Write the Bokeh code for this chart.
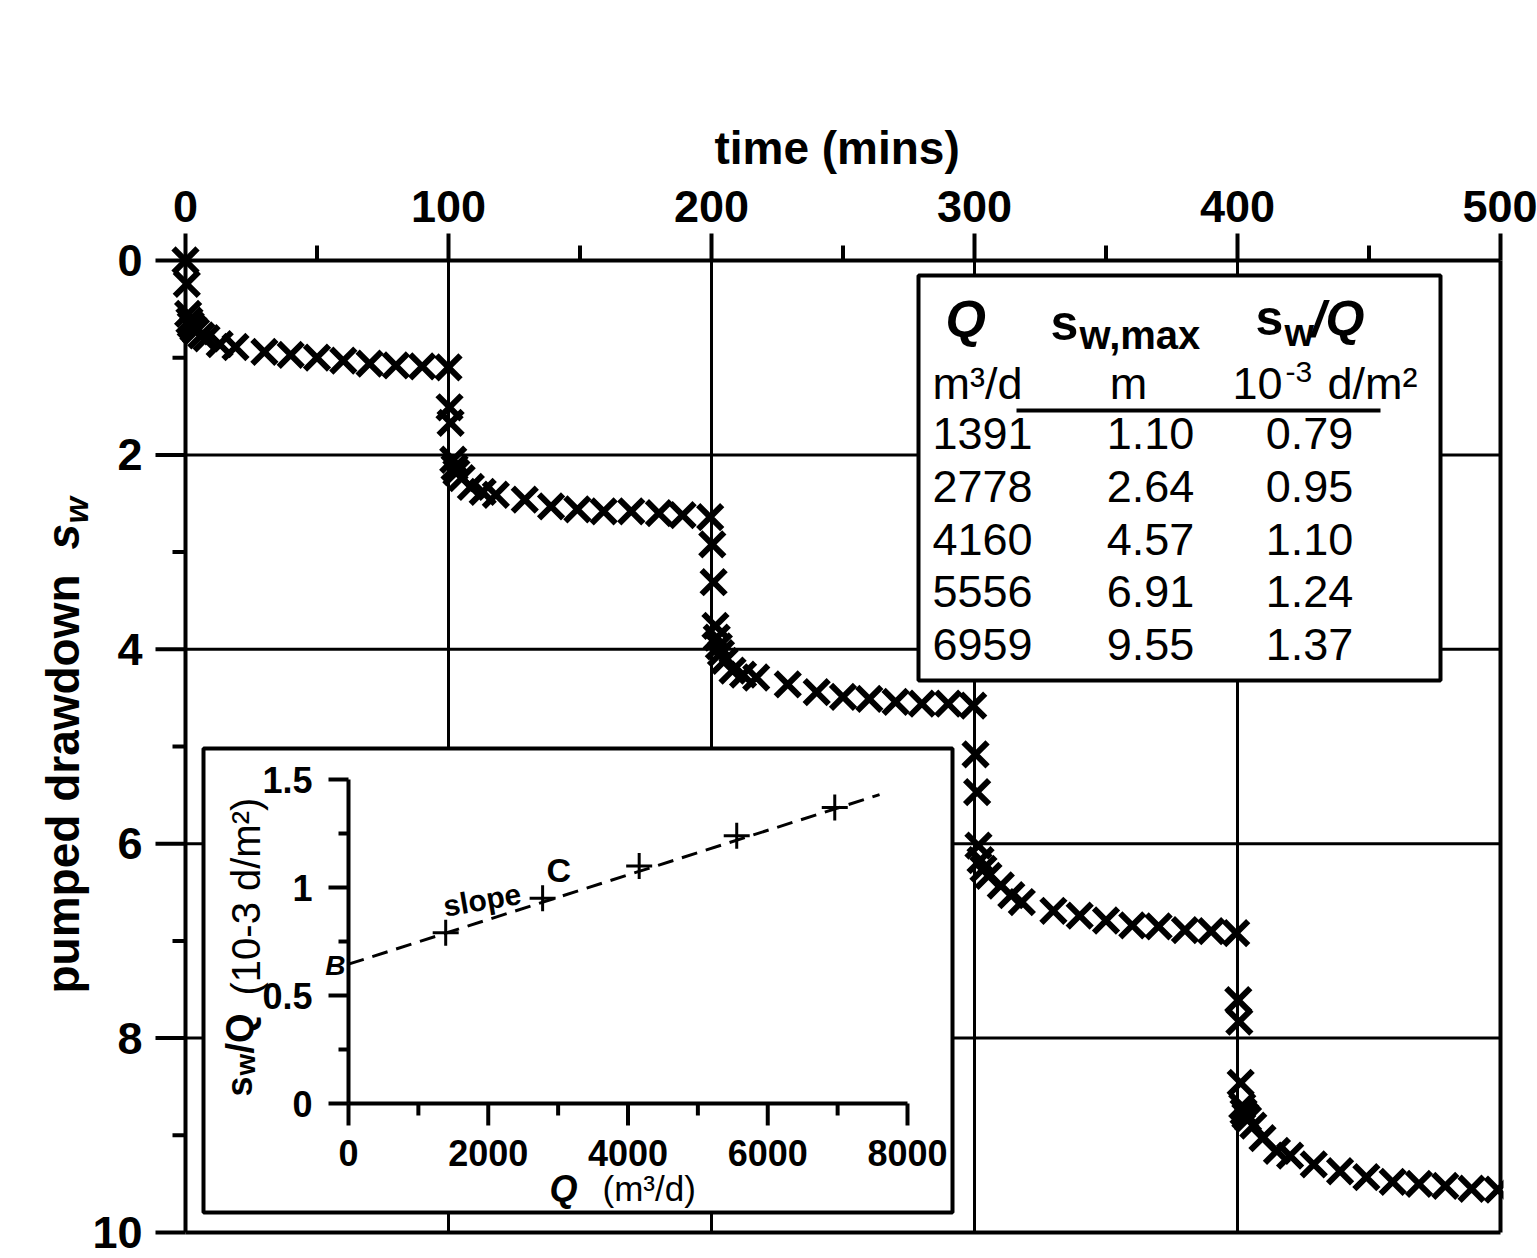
import math
from bokeh.plotting import figure
from bokeh.models import Range1d, FixedTicker, ColumnDataSource
from bokeh.core.properties import value
from bokeh.embed import file_html
from bokeh.resources import INLINE

FONT = "Liberation Sans"

# ---------------- data: step-drawdown test ----------------
stage1_t = [0, 0.5, 1, 1.5, 2, 3, 4, 6, 8, 13, 19, 30, 40, 50, 60, 70, 80, 90, 100]
stage1_s = [0.00, 0.24, 0.55, 0.62, 0.66, 0.70, 0.73, 0.77, 0.80, 0.86, 0.89, 0.94, 0.97, 1.00, 1.03, 1.06, 1.08, 1.09, 1.10]
stage2_t = [100.4, 100.8, 101.8, 102.3, 103, 105, 108.5, 113, 118, 129, 139, 149, 159, 169.5, 180, 189, 199.5]
stage2_s = [1.51, 1.67, 2.05, 2.13, 2.18, 2.24, 2.33, 2.38, 2.41, 2.46, 2.53, 2.56, 2.58, 2.58, 2.60, 2.62, 2.64]
stage3_t = [200.3, 200.8, 201.5, 202, 202.8, 203.6, 205, 208, 212, 217, 229, 240, 250, 260, 270, 280, 290, 299.5]
stage3_s = [2.92, 3.31, 3.76, 3.88, 3.97, 4.04, 4.12, 4.22, 4.26, 4.29, 4.36, 4.44, 4.49, 4.51, 4.54, 4.56, 4.56, 4.58]
stage4_t = [300.4, 301, 301.5, 302.3, 303.4, 305.3, 310, 314, 318, 330, 340, 350, 360, 370, 380, 390, 399.5]
stage4_s = [5.08, 5.47, 6.02, 6.17, 6.26, 6.33, 6.43, 6.53, 6.60, 6.69, 6.74, 6.79, 6.84, 6.85, 6.89, 6.90, 6.92]
stage5_t = [400.3, 400.7, 401.2, 401.8, 402.3, 403, 404, 406, 409.5, 415, 420, 429, 439, 449, 459, 469, 479, 489, 499]
stage5_s = [7.61, 7.83, 8.46, 8.70, 8.76, 8.80, 8.83, 8.90, 9.03, 9.16, 9.21, 9.30, 9.37, 9.43, 9.48, 9.50, 9.52, 9.55, 9.56]

time_mins = stage1_t + stage2_t + stage3_t + stage4_t + stage5_t
drawdown = stage1_s + stage2_s + stage3_s + stage4_s + stage5_s

# table / inset data
q_rates = [1391, 2778, 4160, 5556, 6959]          # m3/d
sw_max = [1.10, 2.64, 4.57, 6.91, 9.55]            # m
sw_over_q = [0.79, 0.95, 1.10, 1.24, 1.37]         # 10^-3 d/m2
fit_q = [0, 7600]
fit_r = [0.645, 1.43]

main_x_ticks = [0, 100, 200, 300, 400, 500]
main_x_minor = [50, 150, 250, 350, 450]
main_y_ticks = [0, 2, 4, 6, 8, 10]
main_y_minor = [1, 3, 5, 7, 9]
inset_x_ticks = [0, 2000, 4000, 6000, 8000]
inset_x_minor = [1000, 3000, 5000, 7000]
inset_y_ticks = [0, 0.5, 1, 1.5]
inset_y_labels = ["0", "0.5", "1", "1.5"]
inset_y_minor = [0.25, 0.75, 1.25]

# ---------------- layout geometry (page pixels) ----------------
W, H = 1537, 1258
XL, XR, YT, YB = 185, 1500, 260, 1232    # pixels of t=0, t=500, s=0, s=10
FRAME_TOP, FRAME_RIGHT = 228, 1503       # plotting frame spans the canvas left/bottom
T0, T1, S0, S1 = 0, 500, 0, 10


def tx(px):
    return T0 + (px - XL) / (XR - XL) * (T1 - T0)


def sy(py):
    return S0 + (py - YT) / (YB - YT) * (S1 - S0)


# inset axes geometry
IQX0, IQX1 = 348, 907      # px of Q=0, Q=8000
IRY0, IRY1 = 1103, 779     # px of r=0, r=1.5
QPP = 8000 / (IQX1 - IQX0)
RPP = 1.5 / (IRY0 - IRY1)


def qx(px):
    return (px - IQX0) * QPP


def ry(py):
    return (IRY0 - py) * RPP


p = figure(width=W, height=H, x_range=Range1d(tx(0), tx(FRAME_RIGHT)),
           y_range=Range1d(sy(H), sy(FRAME_TOP)),
           x_axis_location="above", y_axis_location=None,
           output_backend="svg", toolbar_location=None,
           min_border_left=0, min_border_right=W - FRAME_RIGHT, min_border_top=FRAME_TOP,
           min_border_bottom=0, background_fill_color="white", border_fill_color="white")
p.outline_line_color = None
p.xgrid.visible = False
p.ygrid.visible = False

p.extra_x_ranges = {"q": Range1d(qx(0), qx(FRAME_RIGHT))}
p.extra_y_ranges = {"r": Range1d(ry(H), ry(FRAME_TOP))}
R = dict(x_range_name="q", y_range_name="r")

# top (time) axis: labels from the axis, tick marks drawn in the frame below
xa = p.xaxis[0]
xa.ticker = FixedTicker(ticks=main_x_ticks, minor_ticks=main_x_minor)
xa.major_label_text_font = FONT
xa.major_label_text_font_size = "45px"
xa.major_label_text_font_style = "bold"
xa.major_label_text_color = "black"
xa.major_tick_out = 0
xa.major_tick_in = 0
xa.minor_tick_out = 0
xa.minor_tick_in = 0
xa.axis_line_color = None
xa.major_tick_line_color = None
xa.minor_tick_line_color = None
# leading em/en spaces shift the centred title over the time span of the panel
xa.axis_label = "\u2003\u2003\u2003\u2002\u2009time (mins)"
xa.axis_label_text_font = FONT
xa.axis_label_text_font_size = "46px"
xa.axis_label_text_font_style = "bold"
xa.axis_label_text_color = "black"
xa.axis_label_standoff = 14
xa.major_label_standoff = 7

# grid lines and frame of the time/drawdown panel
inner_x = main_x_ticks[1:-1]
inner_y = main_y_ticks[1:-1]
p.segment(x0=inner_x, x1=inner_x, y0=[S0] * len(inner_x), y1=[S1] * len(inner_x),
          line_color="black", line_width=3)
p.segment(x0=[T0] * len(inner_y), x1=[T1] * len(inner_y), y0=inner_y, y1=inner_y,
          line_color="black", line_width=3)
p.segment(x0=[T0, T1, T0, T0], x1=[T0, T1, T1, T1], y0=[S0, S0, S0, S1], y1=[S1, S1, S0, S1],
          line_color="black", line_width=4)

# time axis tick marks (upward)
p.segment(x0=main_x_ticks, x1=main_x_ticks, y0=[S0] * len(main_x_ticks),
          y1=[sy(YT - 27)] * len(main_x_ticks), line_color="black", line_width=4)
p.segment(x0=main_x_minor, x1=main_x_minor, y0=[S0] * len(main_x_minor),
          y1=[sy(YT - 15)] * len(main_x_minor), line_color="black", line_width=4)

# drawdown (left) axis ticks and labels
p.segment(x0=[T0] * len(main_y_ticks), x1=[tx(XL - 30)] * len(main_y_ticks),
          y0=main_y_ticks, y1=main_y_ticks, line_color="black", line_width=4)
p.segment(x0=[T0] * len(main_y_minor), x1=[tx(XL - 13)] * len(main_y_minor),
          y0=main_y_minor, y1=main_y_minor, line_color="black", line_width=4)
p.text(x=[tx(142)] * len(main_y_ticks), y=main_y_ticks, text=[str(v) for v in main_y_ticks],
       text_align=value("right"), text_baseline=value("middle"), text_font=value(FONT),
       text_font_size=value("45px"), text_font_style=value("bold"), text_color="black")

# drawdown axis title (rotated, with subscript)
yl = dict(angle=math.pi / 2, text_align=value("left"), text_baseline=value("middle"),
          text_font=value(FONT), text_color="black")
p.text(x=[qx(62)], y=[ry(993)], text=["pumped drawdown"], text_font_size=value("46px"),
       text_font_style=value("bold"), **yl, **R)
p.text(x=[qx(62)], y=[ry(549)], text=["s"], text_font_size=value("46px"),
       text_font_style=value("bold italic"), **yl, **R)
p.text(x=[qx(75)], y=[ry(523)], text=["w"], text_font_size=value("34px"),
       text_font_style=value("bold italic"), **yl, **R)

# main data markers
p.scatter(time_mins, drawdown, marker="x", size=34, line_width=6, line_color="black")

# ---------------- table box ----------------
p.quad(left=[tx(918)], right=[tx(1440)], top=[sy(275)], bottom=[sy(680)],
       fill_color="white", line_color="black", line_width=4)

ROW0, ROWH = 433, 52.8
row_y = [sy(ROW0 + i * ROWH) for i in range(len(q_rates))]
tab = ColumnDataSource(dict(
    y=row_y,
    q=[str(v) for v in q_rates],
    smax=["%.2f" % v for v in sw_max],
    sq=["%.2f" % v for v in sw_over_q],
))
common = dict(text_font=value(FONT), text_font_size=value("45px"), text_color="black",
              text_baseline=value("middle"))
p.text(x=tx(932), y="y", text="q", source=tab, text_align=value("left"), **common)
p.text(x=tx(1150), y="y", text="smax", source=tab, text_align=value("center"), **common)
p.text(x=tx(1309), y="y", text="sq", source=tab, text_align=value("center"), **common)

# units row
p.text(x=[tx(932)], y=[sy(383)], text=["m³/d"], text_align=value("left"), **common)
p.text(x=[tx(1128)], y=[sy(383)], text=["m"], text_align=value("center"), **common)
p.text(x=[tx(1232)], y=[sy(383)], text=["10"], text_align=value("left"), **common)
p.text(x=[tx(1285)], y=[sy(371)], text=["-3"], text_align=value("left"),
       text_font=value(FONT), text_font_size=value("30px"), text_baseline=value("middle"),
       text_color="black")
p.text(x=[tx(1327)], y=[sy(383)], text=["d/m²"], text_align=value("left"), **common)
p.segment(x0=[tx(1016)], x1=[tx(1380)], y0=[sy(410)], y1=[sy(410)], line_color="black", line_width=4)

# header row
hdr = dict(text_font=value(FONT), text_baseline=value("middle"), text_color="black",
           text_align=value("left"))
p.text(x=[tx(945)], y=[sy(318)], text=["Q"], text_font_size=value("52px"),
       text_font_style=value("bold italic"), **hdr)
p.text(x=[tx(1050)], y=[sy(322)], text=["s"], text_font_size=value("50px"),
       text_font_style=value("bold"), **hdr)
p.text(x=[tx(1079)], y=[sy(334)], text=["w,max"], text_font_size=value("40px"),
       text_font_style=value("bold"), **hdr)
p.text(x=[tx(1255)], y=[sy(317)], text=["s"], text_font_size=value("50px"),
       text_font_style=value("bold"), **hdr)
p.text(x=[tx(1284)], y=[sy(332)], text=["w"], text_font_size=value("38px"),
       text_font_style=value("bold"), **hdr)
p.text(x=[tx(1311)], y=[sy(318)], text=["/Q"], text_font_size=value("50px"),
       text_font_style=value("bold italic"), **hdr)

# ---------------- inset ----------------
p.quad(left=[tx(203)], right=[tx(952)], top=[sy(748)], bottom=[sy(1212)],
       fill_color="white", line_color="black", line_width=4)

blk = dict(line_color="black", line_width=4)
# axis lines
p.segment(x0=[0, 0], y0=[0, 0], x1=[0, inset_x_ticks[-1]], y1=[inset_y_ticks[-1], 0], **blk, **R)
# y ticks
p.segment(x0=[0] * 4, x1=[-20 * QPP] * 4, y0=inset_y_ticks, y1=inset_y_ticks, **blk, **R)
p.segment(x0=[0] * 3, x1=[-10 * QPP] * 3, y0=inset_y_minor, y1=inset_y_minor, **blk, **R)
# x ticks
p.segment(x0=inset_x_ticks, x1=inset_x_ticks, y0=[0] * 5, y1=[-22 * RPP] * 5, **blk, **R)
p.segment(x0=inset_x_minor, x1=inset_x_minor, y0=[0] * 4, y1=[-12 * RPP] * 4, **blk, **R)

tl = dict(text_font=value(FONT), text_font_size=value("36px"), text_font_style=value("bold"),
          text_color="black", text_baseline=value("middle"))
p.text(x=[qx(312)] * 4, y=inset_y_ticks, text=inset_y_labels, text_align=value("right"), **tl, **R)
p.text(x=inset_x_ticks, y=[ry(1152)] * 5, text=[str(v) for v in inset_x_ticks],
       text_align=value("center"), **tl, **R)

# x title
p.text(x=[qx(577)], y=[ry(1188)], text=["Q"], text_align=value("right"),
       text_font=value(FONT), text_font_size=value("36px"), text_font_style=value("bold italic"),
       text_baseline=value("middle"), text_color="black", **R)
p.text(x=[qx(602)], y=[ry(1188)], text=["(m³/d)"], text_align=value("left"),
       text_font=value(FONT), text_font_size=value("35px"), text_baseline=value("middle"),
       text_color="black", **R)

# y title (rotated)
rot = dict(angle=math.pi / 2, text_align=value("left"), text_baseline=value("middle"),
           text_font=value(FONT), text_color="black")
p.text(x=[qx(239)], y=[ry(1096)], text=["s"], text_font_size=value("36px"),
       text_font_style=value("bold"), **rot, **R)
p.text(x=[qx(245)], y=[ry(1075)], text=["w"], text_font_size=value("28px"),
       text_font_style=value("bold"), **rot, **R)
p.text(x=[qx(239)], y=[ry(1053)], text=["/Q"], text_font_size=value("38px"),
       text_font_style=value("bold"), **rot, **R)
p.text(x=[qx(245)], y=[ry(995)], text=["(10-3 d/m²)"], text_font_size=value("40px"),
       **rot, **R)

# fit line and points
p.line(fit_q, fit_r, line_color="black", line_width=3, line_dash="16 9", **R)
p.scatter(q_rates, sw_over_q, marker="cross", size=26, line_width=3, line_color="black", **R)

p.text(x=[qx(345)], y=[ry(965)], text=["B"], text_align=value("right"), text_baseline=value("middle"),
       text_font=value(FONT), text_font_size=value("28px"), text_font_style=value("bold italic"),
       text_color="black", **R)
p.text(x=[qx(443)], y=[ry(906)], text=["slope"], angle=0.17, text_align=value("left"),
       text_baseline=value("middle"), text_font=value(FONT), text_font_size=value("30px"),
       text_font_style=value("bold"), text_color="black", **R)
p.text(x=[qx(546)], y=[ry(869)], text=["C"], text_align=value("left"),
       text_baseline=value("middle"), text_font=value(FONT), text_font_size=value("34px"),
       text_font_style=value("bold"), text_color="black", **R)

open("out.html", "w").write(file_html(p, INLINE))
